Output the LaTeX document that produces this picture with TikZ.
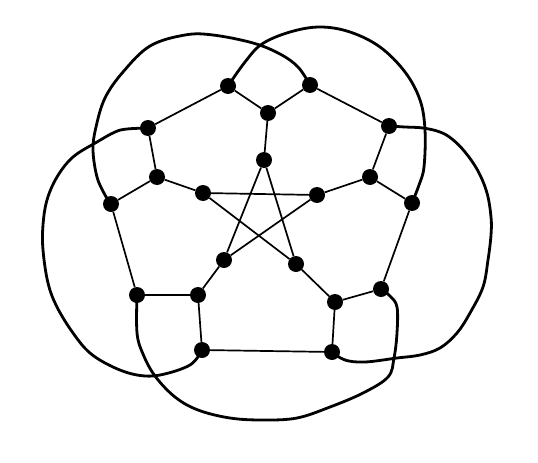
\documentclass[tikz,border=0pt]{standalone}
\begin{document}
\begin{tikzpicture}[x=1pt,y=-1pt,
  vtx/.style={circle,fill=black,inner sep=0pt,minimum size=16pt},
  edge/.style={line width=1.7pt},
  loop/.style={line width=2.8pt,line join=round,line cap=round}]
\useasboundingbox (0,0) rectangle (538,463);
% vertices
\node[vtx] (A) at (228,86) {};
\node[vtx] (B) at (310,85) {};
\node[vtx] (C) at (268,113) {};
\node[vtx] (D) at (148,128) {};
\node[vtx] (E) at (389,126) {};
\node[vtx] (F) at (264,160) {};
\node[vtx] (G) at (157,177) {};
\node[vtx] (H) at (370,177) {};
\node[vtx] (I) at (203,193) {};
\node[vtx] (J) at (317,195) {};
\node[vtx] (K) at (111,204) {};
\node[vtx] (L) at (412,203) {};
\node[vtx] (M) at (224,260) {};
\node[vtx] (N) at (296,264) {};
\node[vtx] (O) at (137,295) {};
\node[vtx] (P) at (198,295) {};
\node[vtx] (Q) at (381,289) {};
\node[vtx] (R) at (335,302) {};
\node[vtx] (S) at (202,350) {};
\node[vtx] (T) at (332,352) {};
% straight edges
\foreach \u/\v in {A/D,A/C,C/B,B/E,C/F,D/G,G/K,G/I,I/J,J/H,H/E,H/L,
  F/M,F/N,I/N,J/M,K/O,O/P,P/M,P/S,S/T,T/R,R/N,R/Q,Q/L}
  \draw[edge] (\u) -- (\v);
% outer curves
\draw[loop] plot[smooth,tension=0.6] coordinates {(A) (245,62) (262,44) (290,32) (320,27) (350,32) (380,47) (405,72) (420,100) (425,130) (424,167) (419,185) (L)};
\draw[loop] plot[smooth,tension=0.6] coordinates {(B) (298,67) (280,54) (253,43) (213,35) (185,35) (150,46) (123,72) (105,98) (96,127) (93,150) (97,177) (105,195) (K)};
\draw[loop] plot[smooth,tension=0.6] coordinates {(D) (127,129) (115,132) (97,142) (73,157) (57,177) (47,200) (43,225) (43,250) (48,283) (57,307) (73,333) (90,353) (113,367) (137,375) (160,375) (190,365) (S)};
\draw[loop] plot[smooth,tension=0.6] coordinates {(E) (405,127) (423,128) (440,132) (452,139) (465,152) (478,171) (487,193) (491,217) (491,235) (488,260) (483,287) (470,313) (457,333) (440,348) (420,355) (397,358) (365,362) (345,360) (T)};
\draw[loop] plot[smooth,tension=0.6] coordinates {(O) (137,333) (143,354) (155,376) (175,397) (198,410) (230,418) (263,420) (297,418) (330,407) (363,393) (388,377) (394,358) (397,333) (397,307) (390,296) (Q)};
\end{tikzpicture}
\end{document}
